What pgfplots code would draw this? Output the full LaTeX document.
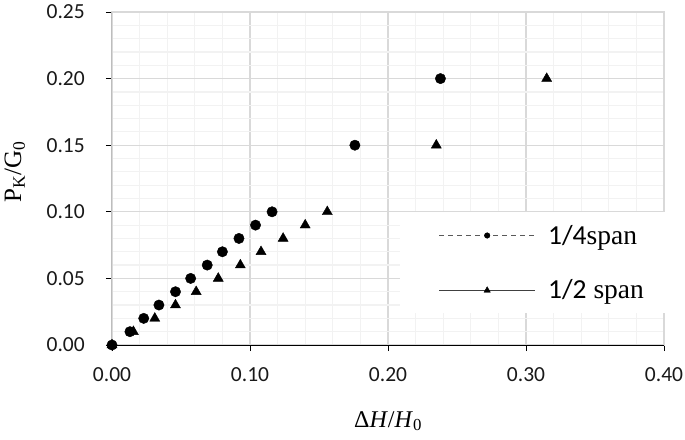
\documentclass[border=0pt]{standalone}
\usepackage{pgfplots}
\pgfplotsset{compat=1.18}
\usepackage{fontspec}
\setmainfont{Liberation Serif}
\newfontfamily\calfont{Carlito}
\definecolor{majgrid}{HTML}{D9D9D9}
\definecolor{mingrid}{HTML}{F2F2F2}
\begin{document}
\begin{tikzpicture}
\begin{axis}[
  at={(0pt,0pt)}, anchor=south west,
  scale only axis, width=552pt, height=333pt,
  xmin=0, xmax=0.4, ymin=0, ymax=0.25,
  xtick={0,0.1,0.2,0.3,0.4},
  ytick={0,0.05,0.1,0.15,0.2,0.25},
  minor x tick num=4, minor y tick num=4,
  grid=both,
  major grid style={draw=majgrid, line width=1.2pt},
  minor grid style={draw=mingrid, line width=1.2pt},
  axis line style={draw=majgrid, line width=1.2pt},
  tick align=outside, major tick length=6pt, minor tick length=0pt,
  xtick pos=left, ytick pos=left,
  major tick style={black, line width=0.8pt},
  /pgf/number format/assume math mode=true,
  /pgf/number format/.cd, fixed, fixed zerofill, precision=2, /pgfplots/.cd,
  tick label style={font=\calfont\fontsize{21.5}{24}\selectfont, text=black!90},
  yticklabel style={anchor=east, inner sep=0pt, xshift=-21pt},
  xticklabel style={anchor=north, inner sep=0pt, yshift=-16pt},
  xlabel={\fontsize{24}{28}\selectfont Δ\textit{H}/\textit{H}\textsubscript{0}},
  xlabel style={at={(rel axis cs:0.5,0)}, anchor=base, yshift=-82pt, inner sep=0pt},
  ylabel={\fontsize{25}{28}\selectfont P\textsubscript{K}/G\textsubscript{0}},
  ylabel style={at={(rel axis cs:-0.176,0.52)}, anchor=center, rotate=0, inner sep=0pt},
  legend style={at={(rel axis cs:0.5217,0.3994)}, anchor=north west,
    draw=none, fill=white, inner xsep=0pt, inner ysep=11pt,
    row sep=30pt, column sep=0pt, font=\fontsize{27.5}{31}\selectfont},
  legend cell align=left,
]
\addplot[only marks, mark=*, mark size=5.2pt, black,
  legend image code/.code={
    \path[draw=none, fill=none] (0pt,0pt) rectangle (146pt,0.1pt);
    \draw[black!65, line width=0.9pt, dash pattern=on 5pt off 4pt] (39pt,0pt) -- (135pt,0pt);
    \fill[black] (87pt,0pt) circle (2.8pt);
  }]
coordinates {
(0,0) (0.013,0.01) (0.023,0.02) (0.034,0.03) (0.046,0.04) (0.057,0.05)
(0.069,0.06) (0.080,0.07) (0.092,0.08) (0.104,0.09) (0.116,0.10)
(0.176,0.15) (0.238,0.20)
};
\addlegendentry{\makebox[119pt][l]{{\calfont 1/4}span}}
\addplot[only marks, mark=triangle*, mark size=5.8pt, black,
  legend image code/.code={
    \path[draw=none, fill=none] (0pt,0pt) rectangle (146pt,0.1pt);
    \draw[black!75, line width=0.9pt] (39pt,0pt) -- (135pt,0pt);
    \fill[black] (87pt,3.4pt) -- (83.8pt,-2.2pt) -- (90.2pt,-2.2pt) -- cycle;
  }]
coordinates {
(0,0) (0.0155,0.01) (0.031,0.02) (0.046,0.03) (0.061,0.04) (0.077,0.05)
(0.093,0.06) (0.108,0.07) (0.124,0.08) (0.140,0.09) (0.156,0.10)
(0.235,0.15) (0.315,0.20)
};
\addlegendentry{\makebox[119pt][l]{{\calfont 1/2} span}}
\draw[black, line width=1pt] (rel axis cs:0,0) -- (rel axis cs:0,1);
\draw[black, line width=1pt] (rel axis cs:0,0) -- (rel axis cs:1,0);
\end{axis}
\pgfresetboundingbox
\path[use as bounding box] (-112pt,-94pt) rectangle (573pt,345pt);
\end{tikzpicture}
\end{document}
